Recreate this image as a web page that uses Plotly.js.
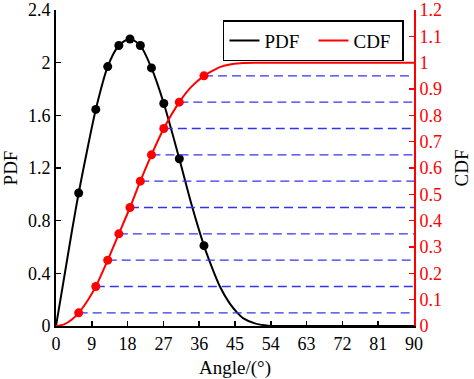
<!DOCTYPE html>
<html>
<head>
<meta charset="utf-8">
<script src="https://cdn.plot.ly/plotly-3.0.1.min.js"></script>
<style>html,body{margin:0;padding:0;background:#fff;}#chart{width:474px;height:379px;}</style>
</head>
<body>
<div id="chart"></div>
<script>
// Curve samples (angle in degrees)
const curveAngle = [0, 2, 4, 5.7, 8, 10, 13, 15.8, 18.6, 21.2, 24, 27.1, 31, 34, 37.2, 38.5, 41.2, 43.7, 45.6, 47, 50, 52.5, 54, 60, 70, 80, 90];
const pdfCurve   = [0, 0.36, 0.72, 1.01, 1.36, 1.645, 1.97, 2.13, 2.18, 2.13, 1.96, 1.69, 1.27, 0.93, 0.61, 0.50, 0.30, 0.17, 0.10, 0.06, 0.02, 0.005, 0, 0, 0, 0, 0];
const cdfCurve   = [0, 0.006, 0.025, 0.05, 0.098, 0.15, 0.25, 0.35, 0.45, 0.55, 0.65, 0.75, 0.85, 0.908, 0.95, 0.962, 0.983, 0.993, 0.997, 0.999, 1, 1, 1, 1, 1, 1, 1];
// Marked points (quantiles)
const markAngle = [5.7, 10, 13, 15.8, 18.6, 21.2, 24, 27.1, 31, 37.2];
const markPDF   = [1.01, 1.645, 1.97, 2.13, 2.18, 2.13, 1.96, 1.69, 1.27, 0.61];
const markCDF   = [0.05, 0.15, 0.25, 0.35, 0.45, 0.55, 0.65, 0.75, 0.85, 0.95];
const xMax = 90;

const font = 'Liberation Serif, Times New Roman, serif';
const traces = [];
markAngle.forEach((a, i) => {
  traces.push({x: [a, xMax], y: [markCDF[i], markCDF[i]], xaxis: 'x', yaxis: 'y2', mode: 'lines',
    line: {color: '#3434f0', width: 1.3, dash: '9px,5px'}, showlegend: false, hoverinfo: 'skip'});
});
traces.unshift({x: curveAngle, y: pdfCurve, mode: 'lines', name: 'PDF', line: {color: '#000', width: 2, shape: 'spline', smoothing: 0.8}});
traces.splice(1, 0, {x: markAngle, y: markPDF, mode: 'markers', showlegend: false, marker: {color: '#000', size: 9}});
traces.push({x: curveAngle, y: cdfCurve, yaxis: 'y2', mode: 'lines', name: 'CDF', line: {color: '#ff0000', width: 2, shape: 'spline', smoothing: 0.8}});
traces.push({x: markAngle, y: markCDF, yaxis: 'y2', mode: 'markers', showlegend: false, marker: {color: '#ff0000', size: 9}});

const layout = {
  width: 474, height: 379,
  margin: {l: 56, r: 60, t: 10, b: 53},
  paper_bgcolor: '#fff', plot_bgcolor: '#fff',
  font: {family: font, size: 18, color: '#000'},
  showlegend: true,
  legend: {orientation: 'h', x: 0.972, xanchor: 'right', y: 0.968, yanchor: 'top', entrywidth: 44,
    bordercolor: '#000', borderwidth: 1.5, bgcolor: '#fff', font: {family: font, size: 19, color: '#000'}},
  xaxis: {range: [0, 90], dtick: 9, tick0: 0, ticks: 'inside', ticklen: 5, tickwidth: 1.5, tickcolor: '#000',
    showline: true, linecolor: '#000', linewidth: 2, showgrid: false, zeroline: false,
    title: {text: 'Angle/(°)', font: {family: font, size: 19}, standoff: 12}},
  yaxis: {range: [0, 2.4], dtick: 0.4, tick0: 0, ticks: 'inside', ticklen: 5, tickwidth: 1.5, tickcolor: '#000',
    showline: true, linecolor: '#000', linewidth: 2, showgrid: false, zeroline: false,
    title: {text: 'PDF', font: {family: font, size: 19}, standoff: 6}},
  yaxis2: {overlaying: 'y', side: 'right', range: [0, 1.2], dtick: 0.1, tick0: 0, ticks: 'inside', ticklen: 5,
    tickwidth: 1.5, tickcolor: '#ff0000', showline: true, linecolor: '#ff0000', linewidth: 2, showgrid: false,
    zeroline: false, tickfont: {color: '#ff0000', family: font, size: 18},
    title: {text: 'CDF', font: {family: font, size: 19, color: '#000'}, standoff: 14}}
};
Plotly.newPlot('chart', traces, layout, {displayModeBar: false, staticPlot: true});
</script>
</body>
</html>
